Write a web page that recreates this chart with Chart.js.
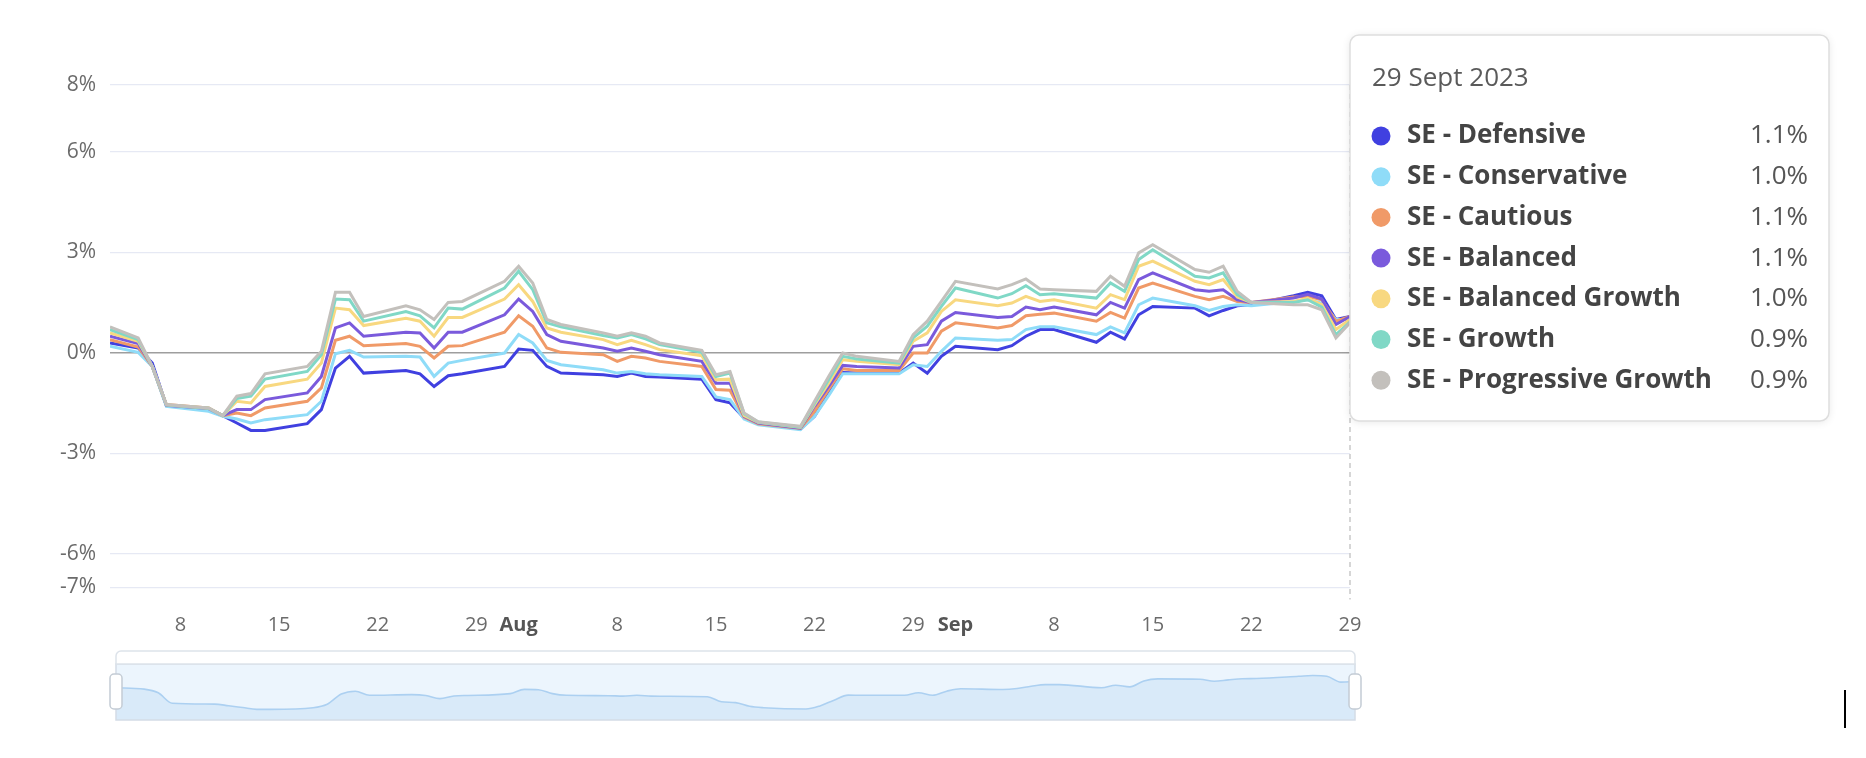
<!DOCTYPE html>
<html><head><meta charset="utf-8">
<script src="https://cdn.jsdelivr.net/npm/chart.js@4.4.0/dist/chart.umd.min.js"></script>
<style>
html,body{margin:0;padding:0;background:#fff;}
#wrap{position:relative;width:1866px;height:758px;overflow:hidden;}
canvas{position:absolute;left:0;top:0;}
</style></head><body>
<div id="wrap"><canvas id="main" width="1866" height="758"></canvas><canvas id="nav" width="1866" height="758"></canvas></div>
<script>
// ---------- DATA ----------
const dates = [
 '2023-07-03','2023-07-05','2023-07-06','2023-07-07','2023-07-10','2023-07-11','2023-07-12','2023-07-13','2023-07-14',
 '2023-07-17','2023-07-18','2023-07-19','2023-07-20','2023-07-21','2023-07-24','2023-07-25','2023-07-26','2023-07-27','2023-07-28','2023-07-31',
 '2023-08-01','2023-08-02','2023-08-03','2023-08-04','2023-08-07','2023-08-08','2023-08-09','2023-08-10','2023-08-11',
 '2023-08-14','2023-08-15','2023-08-16','2023-08-17','2023-08-18','2023-08-21','2023-08-22','2023-08-23','2023-08-24','2023-08-25',
 '2023-08-28','2023-08-29','2023-08-30','2023-08-31',
 '2023-09-01','2023-09-04','2023-09-05','2023-09-06','2023-09-07','2023-09-08','2023-09-11','2023-09-12','2023-09-13','2023-09-14','2023-09-15',
 '2023-09-18','2023-09-19','2023-09-20','2023-09-21','2023-09-22','2023-09-25','2023-09-26','2023-09-27','2023-09-28','2023-09-29'
];
const seriesNames = ['SE - Defensive','SE - Conservative','SE - Cautious','SE - Balanced','SE - Balanced Growth','SE - Growth','SE - Progressive Growth'];
const seriesColors = ['#4040e0','#8fdcf8','#f09a68','#7a5adc','#f8d880','#80d8c6','#c3c0bc'];

const defensive = [0.30,0.15,-0.30,-1.57,-1.67,-1.87,-2.09,-2.31,-2.31,-2.11,-1.69,-0.45,-0.10,-0.60,-0.52,-0.62,-1.00,-0.68,-0.62,-0.40,
 0.12,0.08,-0.40,-0.60,-0.65,-0.70,-0.60,-0.70,-0.72,-0.78,-1.39,-1.49,-1.94,-2.11,-2.27,-1.89,-1.19,-0.58,-0.60,-0.60,-0.30,-0.60,-0.10,
 0.20,0.10,0.22,0.50,0.70,0.70,0.32,0.62,0.42,1.14,1.39,1.34,1.11,1.27,1.41,1.44,1.71,1.81,1.71,1.00,1.09];
const conservative = [0.20,0.02,-0.40,-1.59,-1.74,-1.89,-1.97,-2.09,-1.99,-1.84,-1.44,-0.02,0.08,-0.12,-0.10,-0.12,-0.70,-0.30,-0.22,0.00,
 0.55,0.30,-0.22,-0.35,-0.50,-0.60,-0.55,-0.62,-0.65,-0.70,-1.31,-1.39,-1.97,-2.14,-2.29,-1.89,-1.27,-0.62,-0.62,-0.62,-0.35,-0.40,0.05,
 0.45,0.38,0.40,0.70,0.78,0.78,0.55,0.78,0.60,1.44,1.64,1.41,1.27,1.39,1.44,1.41,1.54,1.59,1.49,1.00,1.00];
const cautious = [0.40,0.18,-0.40,-1.54,-1.64,-1.87,-1.79,-1.87,-1.64,-1.44,-1.04,0.38,0.50,0.22,0.28,0.20,-0.15,0.20,0.22,0.62,
 1.11,0.80,0.15,0.02,-0.05,-0.25,-0.10,-0.15,-0.25,-0.40,-1.09,-1.11,-1.91,-2.11,-2.25,-1.74,-1.09,-0.47,-0.52,-0.52,0.00,0.00,0.65,
 0.90,0.75,0.82,1.11,1.16,1.19,0.95,1.21,1.04,1.94,2.09,1.69,1.59,1.69,1.54,1.51,1.67,1.69,1.59,0.95,1.09];
const balanced = [0.50,0.28,-0.40,-1.56,-1.66,-1.87,-1.69,-1.69,-1.39,-1.19,-0.70,0.75,0.90,0.50,0.62,0.60,0.15,0.62,0.62,1.14,
 1.61,1.24,0.55,0.35,0.15,0.05,0.15,0.05,-0.05,-0.25,-0.90,-0.90,-1.89,-2.09,-2.24,-1.59,-1.00,-0.37,-0.40,-0.45,0.20,0.25,0.95,
 1.21,1.06,1.09,1.37,1.29,1.37,1.14,1.51,1.34,2.19,2.39,1.89,1.84,1.89,1.59,1.51,1.64,1.75,1.61,0.85,1.09];
const balancedGrowth = [0.60,0.35,-0.40,-1.55,-1.65,-1.87,-1.44,-1.49,-1.00,-0.78,-0.30,1.34,1.29,0.82,1.04,0.95,0.50,1.06,1.06,1.61,
 2.04,1.54,0.75,0.62,0.40,0.25,0.38,0.25,0.10,-0.08,-0.80,-0.78,-1.87,-2.07,-2.22,-1.54,-0.90,-0.20,-0.25,-0.35,0.35,0.60,1.24,
 1.59,1.41,1.49,1.69,1.54,1.59,1.34,1.74,1.59,2.59,2.74,2.14,2.04,2.19,1.67,1.51,1.54,1.63,1.44,0.70,1.00];
const growth = [0.70,0.40,-0.40,-1.55,-1.65,-1.87,-1.36,-1.29,-0.78,-0.55,-0.05,1.61,1.59,0.95,1.24,1.11,0.75,1.34,1.31,1.94,
 2.44,1.89,0.90,0.78,0.52,0.45,0.55,0.42,0.25,0.02,-0.70,-0.60,-1.81,-2.06,-2.21,-1.49,-0.80,-0.10,-0.18,-0.30,0.45,0.80,1.39,
 1.94,1.64,1.77,2.01,1.74,1.77,1.64,2.09,1.84,2.79,3.08,2.29,2.24,2.39,1.74,1.51,1.51,1.59,1.37,0.55,0.92];
const progressiveGrowth = [0.78,0.45,-0.40,-1.54,-1.64,-1.87,-1.29,-1.21,-0.62,-0.40,0.05,1.81,1.81,1.09,1.41,1.29,1.00,1.51,1.54,2.14,
 2.59,2.09,1.00,0.85,0.60,0.50,0.60,0.50,0.30,0.08,-0.65,-0.55,-1.79,-2.05,-2.19,-1.44,-0.70,0.00,-0.10,-0.25,0.55,0.95,1.54,
 2.14,1.91,2.04,2.21,1.91,1.89,1.84,2.29,1.99,2.99,3.23,2.49,2.41,2.59,1.84,1.51,1.44,1.44,1.29,0.45,0.90];

const xTickDates = ['2023-07-08','2023-07-15','2023-07-22','2023-07-29','2023-08-01','2023-08-08','2023-08-15','2023-08-22','2023-08-29',
 '2023-09-01','2023-09-08','2023-09-15','2023-09-22','2023-09-29'];
const yTickValues = [-7,-6,-3,0,3,6,8];
const axisMonths = ['Jan','Feb','Mar','Apr','May','Jun','Jul','Aug','Sep','Oct','Nov','Dec'];
const tipMonths = ['Jan','Feb','Mar','Apr','May','June','July','Aug','Sept','Oct','Nov','Dec'];

// ---------- HELPERS ----------
const allSeries = [defensive, conservative, cautious, balanced, balancedGrowth, growth, progressiveGrowth];
const t0 = Date.parse(dates[0] + 'T00:00:00Z');
const dayOf = s => Math.round((Date.parse(s + 'T00:00:00Z') - t0) / 864e5);
const dateOf = d => new Date(t0 + d * 864e5);
const xs = dates.map(dayOf);
const xMin = xs[0], xMax = xs[xs.length - 1];
const tickDays = xTickDates.map(dayOf);
const isMonthTick = v => dateOf(v).getUTCDate() === 1;
const FONT = "'Open Sans', 'Noto Sans', sans-serif";

Chart.defaults.font.family = FONT;

// ---------- MAIN CHART ----------
const tipPlugin = {
  id: 'tip',
  afterDatasetsDraw(chart) {
    const {ctx, chartArea: a, scales: {x}} = chart;
    const px = x.getPixelForValue(xMax);
    ctx.save();
    ctx.strokeStyle = '#c9c9c9'; ctx.lineWidth = 1.5; ctx.setLineDash([5, 4]);
    ctx.beginPath(); ctx.moveTo(px, a.top); ctx.lineTo(px, a.bottom + 12); ctx.stroke();
    ctx.restore();
  },
  afterDraw(chart) {
    const {ctx, scales: {x}} = chart;
    const left = x.getPixelForValue(xMax), top = 35, w = 479, h = 386;
    ctx.save();
    ctx.shadowColor = 'rgba(0,0,0,0.10)'; ctx.shadowBlur = 8; ctx.shadowOffsetY = 1;
    ctx.beginPath(); ctx.roundRect(left, top, w, h, 9);
    ctx.fillStyle = '#fff'; ctx.fill();
    ctx.shadowColor = 'transparent';
    ctx.strokeStyle = '#dedede'; ctx.lineWidth = 1.5; ctx.stroke();
    const d = dateOf(xMax);
    ctx.textBaseline = 'middle';
    ctx.fillStyle = '#5a5a5a'; ctx.font = '26px ' + FONT; ctx.textAlign = 'left';
    ctx.fillText(d.getUTCDate() + ' ' + tipMonths[d.getUTCMonth()] + ' ' + d.getUTCFullYear(), left + 22, top + 44);
    allSeries.forEach((vals, i) => {
      const cy = top + 101 + i * 40.7;
      ctx.beginPath(); ctx.arc(left + 31, cy, 9.5, 0, Math.PI * 2);
      ctx.fillStyle = seriesColors[i]; ctx.fill();
      ctx.fillStyle = '#444'; ctx.font = 'bold 26px ' + FONT; ctx.textAlign = 'left';
      ctx.fillText(seriesNames[i], left + 57, cy);
      ctx.fillStyle = '#555'; ctx.font = '26px ' + FONT; ctx.textAlign = 'right';
      ctx.fillText(vals[vals.length - 1].toFixed(1) + '%', left + 458, cy);
    });
    ctx.restore();
  }
};

new Chart(document.getElementById('main'), {
  type: 'line',
  data: {
    datasets: allSeries.map((vals, i) => ({
      label: seriesNames[i],
      data: vals.map((v, j) => ({x: xs[j], y: v})),
      borderColor: seriesColors[i],
      borderWidth: 3,
      pointRadius: 0,
      tension: 0,
      fill: false,
      order: allSeries.length - 1 - i
    }))
  },
  options: {
    responsive: false, animation: false, devicePixelRatio: 1,
    layout: {padding: {left: 0, right: 516, top: 85, bottom: 0}},
    plugins: {legend: {display: false}, tooltip: {enabled: false}},
    scales: {
      x: {
        type: 'linear', min: xMin, max: xMax,
        grid: {display: false, drawTicks: false},
        border: {display: false},
        afterFit: s => { s.height = 170.5; },
        afterBuildTicks: s => { s.ticks = tickDays.map(v => ({value: v})); },
        ticks: {
          autoSkip: false, maxRotation: 0, padding: 26,
          callback: v => { const dd = dateOf(v); return dd.getUTCDate() === 1 ? axisMonths[dd.getUTCMonth()] : String(dd.getUTCDate()); },
          font: c => ({family: FONT, size: 20, weight: (c.tick && isMonthTick(c.tick.value)) ? 'bold' : 'normal'}),
          color: c => (c.tick && isMonthTick(c.tick.value)) ? '#555' : '#6b6b6b'
        }
      },
      y: {
        type: 'linear', min: yTickValues[0], max: yTickValues[yTickValues.length - 1],
        afterFit: s => { s.width = 110; },
        afterBuildTicks: s => { s.ticks = yTickValues.map(v => ({value: v})); },
        grid: {
          drawTicks: false,
          color: c => (c.tick && c.tick.value === 0) ? '#9e9e9e' : '#e6e9f4',
          lineWidth: c => (c.tick && c.tick.value === 0) ? 1.6 : 1.2
        },
        border: {display: false},
        ticks: {padding: 14, color: '#6b6b6b', font: {size: 21}, callback: v => v + '%'}
      }
    }
  },
  plugins: [tipPlugin]
});

// ---------- NAVIGATOR ----------
const navPlugin = {
  id: 'navDeco',
  beforeDatasetsDraw(chart) {
    const {ctx, chartArea: a} = chart;
    ctx.save(); ctx.fillStyle = '#ecf5fd'; ctx.fillRect(a.left, a.top, a.right - a.left, a.bottom - a.top); ctx.restore();
  },
  afterDraw(chart) {
    const {ctx, chartArea: a} = chart;
    ctx.save();
    ctx.strokeStyle = '#d3dce6'; ctx.lineWidth = 1.5;
    ctx.strokeRect(a.left, a.top, a.right - a.left, a.bottom - a.top);
    ctx.beginPath(); ctx.roundRect(a.left, a.top - 13, a.right - a.left, 13, [5, 5, 0, 0]);
    ctx.fillStyle = '#fff'; ctx.fill(); ctx.strokeStyle = '#dde3ea'; ctx.stroke();
    [a.left, a.right].forEach(hx => {
      ctx.beginPath(); ctx.roundRect(hx - 6, a.top + 10, 12, 35, 4);
      ctx.fillStyle = '#fff'; ctx.fill(); ctx.strokeStyle = '#c4ccd5'; ctx.lineWidth = 1.5; ctx.stroke();
    });
    // text cursor mark present in the reference screenshot
    ctx.strokeStyle = '#000'; ctx.lineWidth = 2;
    ctx.beginPath(); ctx.moveTo(1845, 690); ctx.lineTo(1845, 728); ctx.stroke();
    ctx.restore();
  }
};

new Chart(document.getElementById('nav'), {
  type: 'line',
  data: {datasets: [{
    data: defensive.map((v, j) => ({x: xs[j], y: v})),
    fill: 'start', backgroundColor: '#d9eaf9', borderColor: '#acd0f1', borderWidth: 1.6,
    pointRadius: 0, cubicInterpolationMode: 'monotone'
  }]},
  options: {
    responsive: false, animation: false, devicePixelRatio: 1,
    layout: {padding: {left: 116, right: 511, top: 664, bottom: 38}},
    plugins: {legend: {display: false}, tooltip: {enabled: false}},
    scales: {
      x: {type: 'linear', display: false, min: xMin, max: xMax},
      y: {type: 'linear', display: false, min: -3.6, max: 3.2}
    }
  },
  plugins: [navPlugin]
});
</script>
</body></html>
